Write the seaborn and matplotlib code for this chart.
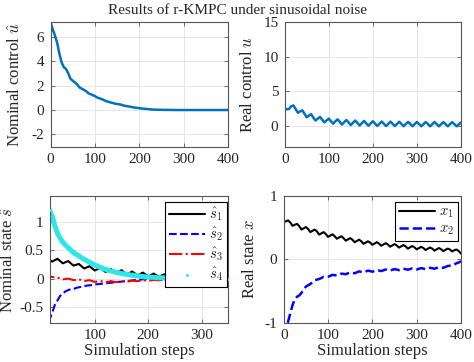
import seaborn as sns
import matplotlib.pyplot as plt

# =====================================================
# Datos (cada 5 pasos)
# =====================================================
steps = list(range(0, 401, 5))

u_hat = [7.2, 6.6, 6.1, 5.5, 4.6, 3.9, 3.5, 3.35,
         3.0, 2.55, 2.4, 2.25, 2.1, 1.85, 1.75, 1.65,
         1.55, 1.38, 1.3, 1.22, 1.14, 1.02, 0.96, 0.9,
         0.82, 0.72, 0.68, 0.62, 0.58, 0.52, 0.5, 0.46,
         0.43, 0.36, 0.33, 0.3, 0.27, 0.22, 0.2, 0.17,
         0.15, 0.12, 0.11, 0.09, 0.08, 0.05, 0.04, 0.03,
         0.03, 0.02, 0.02, 0.01, 0.01, 0.01, 0.01, 0.0,
         0.0, 0.0, 0.0, 0.0, 0.0, 0.0, 0.0, 0.0,
         0.0, 0.0, 0.0, 0.0, 0.0, 0.0, 0.0, 0.0,
         0.0, 0.0, 0.0, 0.0, 0.0, 0.0, 0.0, 0.0,
         0.0]

u_real = [2.5, 2.4, 2.45, 2.85, 2.95, 2.4, 1.9, 2.1,
          2.25, 1.75, 1.25, 1.5, 1.7, 1.2, 0.78, 1.05,
          1.3, 0.9, 0.5, 0.8, 1.05, 0.68, 0.32, 0.66,
          0.95, 0.6, 0.2, 0.55, 0.85, 0.5, 0.12, 0.46,
          0.78, 0.42, 0.06, 0.4, 0.72, 0.36, 0.02, 0.36,
          0.68, 0.33, 0.0, 0.32, 0.64, 0.3, -0.02, 0.3,
          0.62, 0.3, -0.03, 0.29, 0.6, 0.28, -0.04, 0.28,
          0.58, 0.27, -0.05, 0.27, 0.57, 0.27, -0.05, 0.26,
          0.56, 0.26, -0.06, 0.26, 0.56, 0.25, -0.06, 0.25,
          0.55, 0.25, -0.06, 0.25, 0.55, 0.25, -0.06, 0.22,
          0.5]

s1 = [0.32, 0.345, 0.37, 0.335, 0.30, 0.325, 0.35, 0.31,
      0.27, 0.29, 0.31, 0.27, 0.23, 0.245, 0.26, 0.22,
      0.18, 0.2, 0.22, 0.182, 0.145, 0.168, 0.19, 0.155,
      0.12, 0.145, 0.17, 0.135, 0.10, 0.125, 0.15, 0.112,
      0.075, 0.101, 0.127, 0.092, 0.058, 0.083, 0.108, 0.074,
      0.04, 0.066, 0.091, 0.063, 0.035, 0.057, 0.078, 0.05,
      0.022, 0.045, 0.067, 0.039, 0.011, 0.033, 0.055, 0.028,
      0.001, 0.024, 0.046, 0.02, -0.007, 0.015, 0.04, 0.012,
      -0.013, 0.01, 0.03, 0.008, -0.012, 0.006, 0.024, 0.004,
      -0.012, 0.003, 0.016, 0.002, -0.01, 0.001, 0.012, 0.0,
      -0.008]

s2 = [-0.9, -0.85, -0.78, -0.72, -0.6, -0.46, -0.38, -0.3,
      -0.26, -0.22, -0.2, -0.18, -0.18, -0.16, -0.15, -0.14,
      -0.13, -0.12, -0.115, -0.11, -0.1, -0.095, -0.09, -0.085,
      -0.08, -0.075, -0.07, -0.065, -0.06, -0.055, -0.05, -0.045,
      -0.04, -0.035, -0.03, -0.025, -0.02, -0.015, -0.01, -0.008,
      -0.005, -0.004, -0.004, -0.003, -0.003, -0.003, -0.002, -0.002,
      -0.002, -0.002, -0.001, -0.001, -0.001, -0.001, -0.001, -0.001,
      0.0, 0.0, 0.0, 0.0, 0.0, 0.0, 0.0, 0.0,
      0.0, 0.0, 0.0, 0.0, 0.0, 0.0, 0.0, 0.0,
      0.0, 0.0, 0.0, 0.0, 0.0, 0.0, 0.0, 0.0,
      0.0]

s3 = [0.08, 0.07, 0.065, 0.05, 0.03, 0.025, 0.02, 0.005,
      -0.01, -0.004, 0.002, -0.01, -0.025, -0.018, -0.01, -0.025,
      -0.04, -0.032, -0.025, -0.04, -0.055, -0.047, -0.038, -0.05,
      -0.062, -0.052, -0.042, -0.052, -0.06, -0.05, -0.04, -0.046,
      -0.052, -0.042, -0.032, -0.038, -0.043, -0.034, -0.025, -0.03,
      -0.035, -0.027, -0.019, -0.024, -0.028, -0.021, -0.014, -0.018,
      -0.022, -0.016, -0.01, -0.014, -0.017, -0.012, -0.007, -0.01,
      -0.013, -0.009, -0.005, -0.008, -0.01, -0.007, -0.004, -0.006,
      -0.008, -0.005, -0.003, -0.004, -0.006, -0.004, -0.002, -0.003,
      -0.004, -0.002, -0.001, -0.002, -0.003, -0.001, 0.0, -0.001,
      0.0]

s4 = [1.6, 1.45, 1.32, 1.2, 1.1, 0.93, 0.8, 0.71,
      0.64, 0.59, 0.545, 0.5, 0.46, 0.43, 0.4, 0.37,
      0.34, 0.315, 0.29, 0.265, 0.24, 0.22, 0.2, 0.18,
      0.165, 0.15, 0.137, 0.125, 0.113, 0.103, 0.093, 0.085,
      0.077, 0.069, 0.063, 0.056, 0.05, 0.044, 0.039, 0.034,
      0.03, 0.027, 0.024, 0.021, 0.019, 0.017, 0.014, 0.012,
      0.01, 0.008, 0.007, 0.006, 0.005, 0.004, 0.003, 0.003,
      0.002, 0.002, 0.002, 0.001, 0.001, 0.001, 0.001, 0.001,
      0.0, 0.0, 0.0, 0.0, 0.0, 0.0, 0.0, 0.0,
      0.0, 0.0, 0.0, 0.0, 0.0, 0.0, 0.0, 0.0,
      0.0]

x1 = [0.59, 0.6, 0.615, 0.58, 0.53, 0.545, 0.56, 0.525,
      0.47, 0.49, 0.51, 0.48, 0.43, 0.45, 0.47, 0.44,
      0.39, 0.41, 0.43, 0.4, 0.355, 0.375, 0.395, 0.365,
      0.325, 0.345, 0.365, 0.335, 0.295, 0.315, 0.335, 0.31,
      0.27, 0.29, 0.31, 0.285, 0.245, 0.265, 0.285, 0.265,
      0.23, 0.25, 0.27, 0.25, 0.215, 0.235, 0.255, 0.235,
      0.2, 0.22, 0.24, 0.22, 0.185, 0.205, 0.225, 0.205,
      0.17, 0.19, 0.21, 0.19, 0.157, 0.177, 0.197, 0.18,
      0.147, 0.167, 0.187, 0.17, 0.138, 0.158, 0.178, 0.16,
      0.13, 0.15, 0.17, 0.155, 0.125, 0.145, 0.155, 0.13,
      0.09]

x2 = [-1.2, -1.1, -0.98, -0.85, -0.72, -0.63, -0.59, -0.57,
      -0.53, -0.48, -0.43, -0.41, -0.39, -0.36, -0.33, -0.32,
      -0.31, -0.295, -0.275, -0.275, -0.275, -0.26, -0.245, -0.25,
      -0.255, -0.24, -0.225, -0.23, -0.235, -0.22, -0.205, -0.212,
      -0.22, -0.205, -0.19, -0.198, -0.205, -0.192, -0.178, -0.186,
      -0.195, -0.182, -0.168, -0.176, -0.185, -0.173, -0.16, -0.168,
      -0.177, -0.165, -0.153, -0.161, -0.17, -0.159, -0.147, -0.155,
      -0.164, -0.153, -0.142, -0.15, -0.16, -0.149, -0.138, -0.146,
      -0.155, -0.144, -0.133, -0.14, -0.148, -0.136, -0.124, -0.128,
      -0.133, -0.12, -0.105, -0.1, -0.1, -0.08, -0.06, -0.05,
      -0.03]

# =====================================================
# Estilo
# =====================================================
sns.set_theme(style="whitegrid", rc={
    "axes.edgecolor": "#555555", "axes.linewidth": 0.8,
    "grid.color": "#e2e2e2", "grid.linewidth": 0.6,
    "xtick.direction": "in", "ytick.direction": "in",
    "xtick.bottom": True, "xtick.top": True,
    "ytick.left": True, "ytick.right": True,
    "xtick.major.size": 3, "ytick.major.size": 3,
    "xtick.major.width": 0.6, "ytick.major.width": 0.6,
    "xtick.major.pad": 4.5, "ytick.major.pad": 4.5,
    "xtick.color": "#555555", "ytick.color": "#555555",
    "xtick.labelcolor": "#262626", "ytick.labelcolor": "#262626",
    "axes.labelcolor": "#262626", "text.color": "#262626",
    "xtick.labelsize": 11, "ytick.labelsize": 11,
    "axes.labelsize": 12, "mathtext.fontset": "cm",
    "axes.unicode_minus": False,
})
plt.rcParams["font.family"] = ["Liberation Serif", "DejaVu Serif"]

W, H = 474, 362
fig = plt.figure(figsize=(W / 100, H / 100), dpi=100)


def box(x0, y0, x1, y1):
    return [x0 / W, 1 - y1 / H, (x1 - x0) / W, (y1 - y0) / H]


ax_tl = fig.add_axes(box(50.5, 22, 228.3, 146.7))
ax_tr = fig.add_axes(box(284.7, 22, 461, 146.7))
ax_bl = fig.add_axes(box(50, 196, 228.3, 322.7))
ax_br = fig.add_axes(box(283.7, 196, 461, 322.7))

matlab_blue = "#0072BD"
cyan = "#2ee6e6"

# Control nominal
sns.lineplot(x=steps, y=u_hat, ax=ax_tl, color=matlab_blue, lw=1.8)
ax_tl.set_xlim(0, 400)
ax_tl.set_ylim(-3, 7.2)
ax_tl.set_xticks([0, 100, 200, 300, 400])
ax_tl.set_yticks([-2, 0, 2, 4, 6])
ax_tl.set_ylabel(r"Nominal control $\hat{u}$")
ax_tl.yaxis.set_label_coords(-0.149, 0.5)

# Control real
sns.lineplot(x=steps, y=u_real, ax=ax_tr, color=matlab_blue, lw=1.8)
ax_tr.set_xlim(0, 400)
ax_tr.set_ylim(-3, 15)
ax_tr.set_xticks([0, 100, 200, 300, 400])
ax_tr.set_yticks([0, 5, 10, 15])
ax_tr.set_ylabel(r"Real control $u$")
ax_tr.yaxis.set_label_coords(-0.161, 0.5)

# Estado nominal
sns.lineplot(x=steps, y=s1, ax=ax_bl, color="black", lw=1.5, label=r"$\hat{s}_1$")
sns.lineplot(x=steps, y=s2, ax=ax_bl, color="#0000ff", lw=1.5, linestyle="--",
             label=r"$\hat{s}_2$")
sns.lineplot(x=steps, y=s3, ax=ax_bl, color="#ff0000", lw=1.5, linestyle="-.",
             label=r"$\hat{s}_3$")
sns.lineplot(x=steps, y=s4, ax=ax_bl, color=cyan, lw=3.6)
sns.scatterplot(x=steps, y=s4, ax=ax_bl, color=cyan, s=7, linewidth=0,
                label=r"$\hat{s}_4$", zorder=3)
ax_bl.set_xlim(16, 350)
ax_bl.set_ylim(-0.77, 1.45)
ax_bl.set_xticks([100, 200, 300])
ax_bl.set_yticks([-0.5, 0, 0.5, 1])
ax_bl.set_yticklabels(["-0.5", "0", "0.5", "1"])
ax_bl.set_ylabel(r"Nominal state $\hat{s}$")
ax_bl.yaxis.set_label_coords(-0.183, 0.5)
ax_bl.set_xlabel("Simulation steps", labelpad=1)

# Estado real
sns.lineplot(x=steps, y=x1, ax=ax_br, color="black", lw=1.5, label=r"$x_1$")
sns.lineplot(x=steps, y=x2, ax=ax_br, color="#0000ff", lw=1.8, linestyle="--",
             label=r"$x_2$")
ax_br.set_xlim(0, 400)
ax_br.set_ylim(-1, 1)
ax_br.set_xticks([0, 100, 200, 300, 400])
ax_br.set_yticks([-1, 0, 1])
ax_br.set_ylabel(r"Real state $x$")
ax_br.yaxis.set_label_coords(-0.147, 0.5)
ax_br.set_xlabel("Simulation steps", labelpad=1)

legend_kw = dict(loc="upper right", borderaxespad=0, frameon=True, fancybox=False,
                 edgecolor="black", framealpha=1, fontsize=10.5, handlelength=2.5,
                 labelspacing=0.15, borderpad=0.25, handletextpad=0.3,
                 markerscale=0.8)
leg = ax_bl.legend(bbox_to_anchor=(0.995, 0.953), **legend_kw)
leg.get_frame().set_linewidth(0.8)
leg = ax_br.legend(bbox_to_anchor=(0.983, 0.953), **legend_kw)
leg.get_frame().set_linewidth(0.8)

for ax in (ax_tl, ax_tr, ax_bl, ax_br):
    ax.grid(True)
    for sp in ax.spines.values():
        sp.set_visible(True)

fig.suptitle("Results of r-KMPC under sinusoidal noise", y=0.99, fontsize=11, va="top")

fig.savefig("out.png", dpi=100)
